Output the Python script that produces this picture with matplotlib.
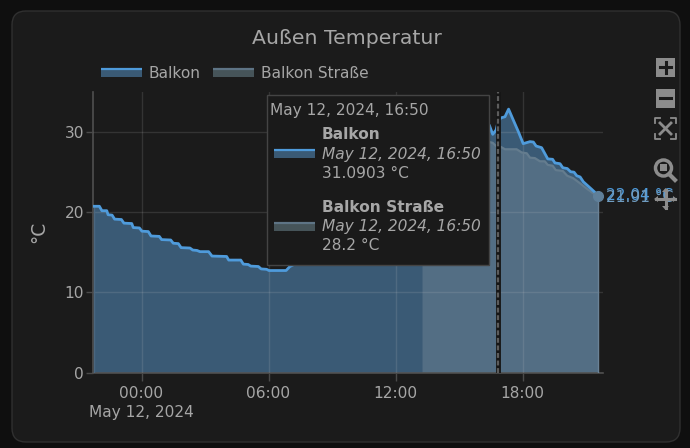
import matplotlib
matplotlib.use("Agg")
import matplotlib.pyplot as plt
from matplotlib.patches import FancyBboxPatch, Rectangle, Circle, Polygon
from matplotlib.lines import Line2D

plt.rcParams['font.family'] = 'DejaVu Sans'

title = "Außen Temperatur"
series_names = ["Balkon", "Balkon Straße"]
tick_hours = [0, 6, 12, 18]
tick_labels = ["00:00", "06:00", "12:00", "18:00"]
y_ticks = [0, 10, 20, 30]

balkon_h = [-2.24,-1.99,-1.87,-1.64,-1.58,-1.39,-1.27,-0.95,-0.83,-0.46,-0.39,-0.10,0.02,0.32,0.45,0.84,0.95,1.38,1.50,1.74,1.87,2.29,2.42,2.62,2.76,3.17,3.33,4.02,4.12,4.69,4.81,5.04,5.16,5.52,5.65,5.91,6.02,6.83,7.01,8,9,10,11,12,13,14,15,16,16.43,16.59,16.75,16.83,16.97,17.17,17.34,17.56,17.80,18.03,18.35,18.51,18.64,18.90,19.19,19.42,19.53,19.77,19.90,20.11,20.27,20.43,20.56,20.72,20.87,21.27,21.58]
balkon_v = [20.7,20.7,20.15,20.15,19.65,19.6,19.1,19.05,18.6,18.55,18.05,18.0,17.6,17.55,17.0,16.95,16.55,16.5,16.1,16.05,15.55,15.5,15.25,15.2,15.05,15.05,14.5,14.45,14.0,14.0,13.5,13.45,13.25,13.2,12.9,12.85,12.7,12.7,13.2,14.5,16,18,20,22.5,24.5,26.5,28.5,30.2,30.8,29.66,30.2,31.09,31.7,31.85,32.8,31.45,30,28.5,28.75,28.7,28.2,28.0,26.6,26.55,26.1,26,25.5,25.4,25,24.95,24.5,24.35,23.75,22.8,22.04]
strasse_h = [13.25,14,15,16,16.43,16.59,16.75,16.83,16.97,17.17,17.72,17.96,18.2,18.35,18.58,18.82,19.05,19.19,19.42,19.57,19.9,20.11,20.39,20.72,21.03,21.35,21.58]
strasse_v = [24,25.5,27,28.3,28.7,28.6,28.2,28.2,28.1,27.8,27.8,27.4,27.3,26.75,26.7,26.3,26.3,25.85,25.75,25.2,25.1,24.5,24.2,23.55,22.9,22.3,21.91]
end_labels = ["22.04 °C", "21.91 °C"]

W, H = 690, 448
TXT = "#a6a6a6"
LINE1 = "#4f9bdb"
FILL1 = "#3a5a75"
LINE2 = "#647c8e"
FILL2 = "#536e84"
SW2 = "#465459"
CARD = "#1b1b1b"
FS = 11.05

fig = plt.figure(figsize=(W/100, H/100), dpi=100, facecolor="#0f0f0f")

bg = fig.add_axes([0, 0, 1, 1], zorder=0)
bg.set_xlim(0, W); bg.set_ylim(H, 0); bg.axis("off")
bg.add_patch(FancyBboxPatch((12, 11), 668, 431, boxstyle="round,pad=0,rounding_size=14",
                            fc=CARD, ec="#303030", lw=1))

ax = fig.add_axes([93/W, 1-372.5/H, (603-93)/W, (372.5-92)/H], zorder=1)
ax.patch.set_alpha(0)
ax.set_xlim((93-141.5)/21.17, (603-141.5)/21.17)
ax.set_ylim(0, (372.5-92)/8.03)

ax.fill_between(balkon_h, balkon_v, 0, color=FILL1, lw=0, zorder=1)
ax.fill_between(strasse_h, strasse_v, 0, color=FILL2, lw=0, zorder=1.5)
ax.plot(strasse_h, strasse_v, color=LINE2, lw=1.6, zorder=3)
ax.plot(balkon_h, balkon_v, color=LINE1, lw=2, zorder=3.2, solid_joinstyle="round")
ax.vlines(balkon_h[0], 0, balkon_v[0], color="#4a6780", lw=1, zorder=3)
ax.vlines(balkon_h[-1], 0, balkon_v[-1], color="#6a8296", lw=1, zorder=3)

ax.set_xticks(tick_hours, tick_labels)
ax.set_yticks(y_ticks)
ax.grid(True, color="#d0d0d0", alpha=0.14, lw=1, zorder=2)
ax.set_axisbelow(False)
ax.tick_params(axis="x", colors=TXT, labelsize=FS, length=6, width=1, color="#4a4a4a", pad=4)
ax.tick_params(axis="y", colors=TXT, labelsize=FS, length=5, width=1, color="#4a4a4a", pad=1.5)
for s in ("top", "right"):
    ax.spines[s].set_visible(False)
for s in ("left", "bottom"):
    ax.spines[s].set_color("#4f4f4f")
    ax.spines[s].set_linewidth(1.2)

hover = balkon_h[balkon_v.index(31.09)]
ax.axvline(hover, color="#161616", lw=3.5, zorder=4)
ax.axvline(hover, color="#5c5c5c", lw=1.6, ls=(0, (2.2, 1.2)), zorder=4.1)
ax.plot(balkon_h[-1], balkon_v[-1], "o", ms=7, color="#5f7f99", zorder=5, clip_on=False)
ax.annotate(end_labels[0], (balkon_h[-1], balkon_v[-1]), xytext=(8, 0), textcoords="offset pixels",
            color=LINE1, fontsize=FS, va="center", annotation_clip=False, zorder=5)
ax.annotate(end_labels[1], (strasse_h[-1], strasse_v[-1]), xytext=(8, -1), textcoords="offset pixels",
            color="#6f9cc0", fontsize=FS, va="center", annotation_clip=False, zorder=5)

ov = fig.add_axes([0, 0, 1, 1], zorder=2)
ov.set_xlim(0, W); ov.set_ylim(H, 0); ov.axis("off"); ov.patch.set_alpha(0)

ov.text(346.5, 38.5, title, color=TXT, fontsize=14.7, ha="center", va="center")
ov.text(38.5, 232, "°C", color=TXT, fontsize=13.5, ha="center", va="center", rotation=90)
ov.text(141, 413, "May 12, 2024", color=TXT, fontsize=FS, ha="center", va="center")

def swatch(x, y, fill, line, w=41, h=9):
    ov.add_patch(Rectangle((x, y), w, h, fc=fill, ec="none"))
    ov.add_line(Line2D([x, x+w], [y+0.8, y+0.8], color=line, lw=1.6, solid_capstyle="butt"))

swatch(101, 68, "#3a5a75", LINE1)
ov.text(149, 73, series_names[0], color=TXT, fontsize=FS, va="center")
swatch(213, 68, SW2, "#5e7485")
ov.text(261, 73, series_names[1], color=TXT, fontsize=FS, va="center")

ov.add_patch(Rectangle((266.5, 95), 222.5, 170, fc="#1a1a1a", ec="#444444", lw=1))
ttl = "May 12, 2024, 16:50"
ov.text(270, 110, ttl, color=TXT, fontsize=FS, va="center")
swatch(274, 149, "#3a5a75", LINE1)
ov.text(322, 134.5, series_names[0], color=TXT, fontsize=FS, fontweight="bold", va="center")
ov.text(322, 154.5, ttl, color=TXT, fontsize=FS, fontstyle="italic", va="center")
ov.text(322, 173.5, "31.0903 °C", color=TXT, fontsize=FS, va="center")
swatch(274, 222, SW2, "#5e7485")
ov.text(322, 207, series_names[1], color=TXT, fontsize=FS, fontweight="bold", va="center")
ov.text(322, 226, ttl, color=TXT, fontsize=FS, fontstyle="italic", va="center")
ov.text(322, 245.5, "28.2 °C", color=TXT, fontsize=FS, va="center")

IC = "#8c8c8c"
ov.add_patch(Rectangle((656, 58), 19, 19, fc=IC, ec="none"))
ov.add_line(Line2D([660, 671], [67.5, 67.5], color=CARD, lw=2.2))
ov.add_line(Line2D([665.5, 665.5], [62, 73], color=CARD, lw=2.2))
ov.add_patch(Rectangle((656, 89), 19, 19, fc=IC, ec="none"))
ov.add_line(Line2D([660, 671], [98.5, 98.5], color=CARD, lw=2.2))
for xs, ys in [([655, 655, 660], [123, 118, 118]), ([671, 676, 676], [118, 118, 123]),
               ([655, 655, 660], [134, 139, 139]), ([671, 676, 676], [139, 139, 134])]:
    ov.add_line(Line2D(xs, ys, color=IC, lw=1.3))
ov.add_line(Line2D([660, 671], [123, 134], color=IC, lw=2))
ov.add_line(Line2D([660, 671], [134, 123], color=IC, lw=2))
ov.add_patch(Circle((663.5, 168), 8, fc="none", ec=IC, lw=2.5))
ov.add_patch(Rectangle((660, 164.5), 7, 7, fc=IC, ec="none"))
ov.add_line(Line2D([669, 675], [174, 180], color=IC, lw=3))
ov.add_line(Line2D([665.5, 665.5], [190, 208], color=IC, lw=2.2))
ov.add_line(Line2D([656, 675], [199, 199], color=IC, lw=2.2))
for pts in [[(662, 192), (669, 192), (665.5, 188)], [(662, 206), (669, 206), (665.5, 210)],
            [(658, 196), (658, 202), (654, 199)], [(673, 196), (673, 202), (677, 199)]]:
    ov.add_patch(Polygon(pts, fc=IC, ec="none"))

fig.savefig("out.png", dpi=100, facecolor=fig.get_facecolor())
